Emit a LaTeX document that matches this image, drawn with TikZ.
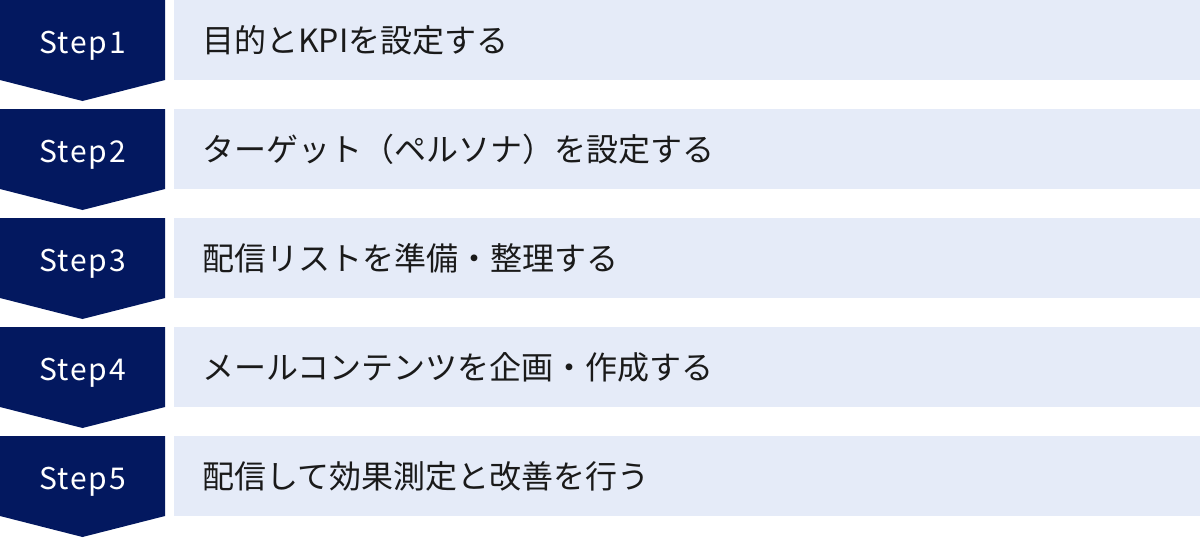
\documentclass[tikz,border=0pt]{standalone}
\usepackage{fontspec}
\setmainfont{Noto Sans CJK JP}
\newfontfamily\stepfont[LetterSpace=6]{Noto Sans CJK JP}
\definecolor{navy}{HTML}{03185F}
\definecolor{pale}{HTML}{E5EBF8}
\definecolor{ink}{HTML}{1A1A1A}

\begin{document}
\begin{tikzpicture}[x=1pt, y=1pt]
\tikzstyle{stepbox}=[fill=navy]
\tikzstyle{steplabel}=[text=white, anchor=base, font=\stepfont\fontsize{30}{30}\selectfont, inner sep=0pt]
\tikzstyle{task}=[fill=pale, anchor=west, minimum height=80pt, text width=970pt, inner xsep=28pt, inner ysep=0pt, align=left, text=ink, font=\fontsize{32}{32}\selectfont]
\useasboundingbox (0,0) rectangle (1200,-538);

\fill[stepbox] (0,0) -- (165,0) -- (165,-80) -- (82.5,-101) -- (0,-80) -- cycle;
\fill[stepbox] (0,-109) -- (165,-109) -- (165,-189) -- (82.5,-210) -- (0,-189) -- cycle;
\fill[stepbox] (0,-218) -- (165,-218) -- (165,-298) -- (82.5,-319) -- (0,-298) -- cycle;
\fill[stepbox] (0,-327) -- (165,-327) -- (165,-407) -- (82.5,-428) -- (0,-407) -- cycle;
\fill[stepbox] (0,-436) -- (165,-436) -- (165,-516) -- (82.5,-537) -- (0,-516) -- cycle;

\node[steplabel] (S1) at (82.5,-53) {Step1};
\node[steplabel] (S2) at (82.5,-162) {Step2};
\node[steplabel] (S3) at (82.5,-271) {Step3};
\node[steplabel] (S4) at (82.5,-380) {Step4};
\node[steplabel] (S5) at (82.5,-489) {Step5};

\node[task] (T1) at (174,-40) {目的とKPIを設定する};
\node[task] (T2) at (174,-149) {ターゲット（ペルソナ）を設定する};
\node[task] (T3) at (174,-258) {配信リストを準備・整理する};
\node[task] (T4) at (174,-367) {メールコンテンツを企画・作成する};
\node[task] (T5) at (174,-476) {配信して効果測定と改善を行う};

\end{tikzpicture}
\end{document}
